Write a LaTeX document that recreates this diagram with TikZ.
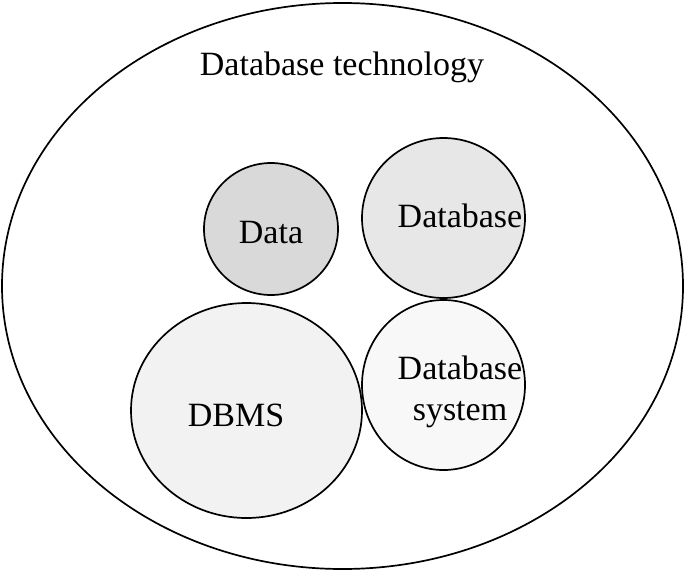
\documentclass[tikz,border=0pt]{standalone}
\usepackage{fontspec}
\setmainfont{Liberation Serif}
\usetikzlibrary{shapes.geometric}
\definecolor{cdata}{HTML}{D9D9D9}
\definecolor{cdb}{HTML}{E7E7E7}
\definecolor{cdbms}{HTML}{F2F2F2}
\definecolor{csys}{HTML}{F8F8F8}
\tikzset{
  blob/.style={ellipse, draw=black, line width=1.7pt, inner sep=0pt},
  lbl/.style={font=\fontsize{34}{41}\selectfont, inner sep=0pt, anchor=base, align=center}
}
\begin{document}
\begin{tikzpicture}[x=1pt, y=-1pt]
\useasboundingbox (0,0) rectangle (685,573);
\node[blob, fill=white, minimum width=681pt, minimum height=566pt] (tech) at (342.5,286) {};
\node[blob, fill=cdata, minimum width=134pt, minimum height=132pt] (data) at (271,229) {};
\node[blob, fill=cdb, minimum width=163pt, minimum height=160pt] (db) at (443.5,218) {};
\node[blob, fill=cdbms, minimum width=231pt, minimum height=215pt] (dbms) at (246.5,410.5) {};
\node[blob, fill=csys, minimum width=163pt, minimum height=170pt] (sys) at (443.5,385) {};
\node[lbl] (techtxt) at (342,75) {Database technology};
\node[lbl] (datatxt) at (271,243) {Data};
\node[lbl] (dbtxt) at (460,227) {Database};
\node[lbl] (dbmstxt) at (236,426) {DBMS};
\node[lbl, anchor=center] (systxt) at (460,392) {Database\\system};
\end{tikzpicture}
\end{document}
